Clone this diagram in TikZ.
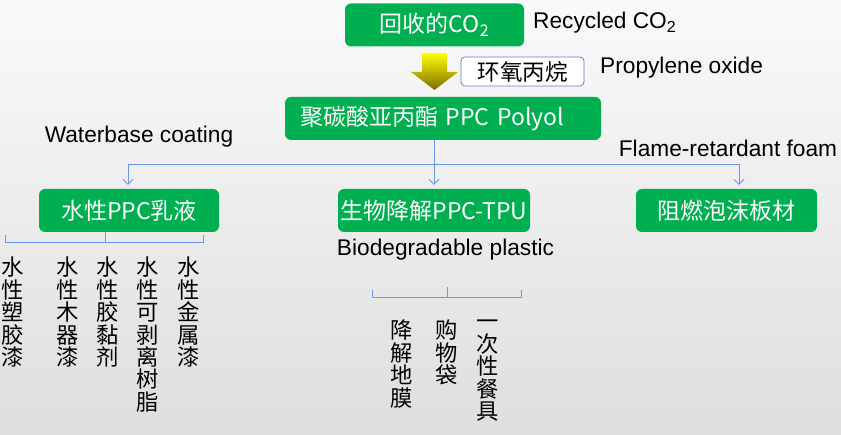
\documentclass[tikz,border=0pt]{standalone}
\usepackage{fontspec}
\setmainfont{Liberation Sans}
\newfontfamily\cjk{Noto Sans CJK SC}
\usetikzlibrary{arrows.meta}
\definecolor{boxgreen}{RGB}{0,176,80}
\definecolor{linkblue}{RGB}{110,152,230}
\definecolor{poborder}{RGB}{95,128,190}
\definecolor{bgtop}{RGB}{250,250,250}
\definecolor{bgbottom}{RGB}{222,222,222}
\definecolor{arrowtop}{RGB}{255,255,0}
\definecolor{arrowbottom}{RGB}{125,108,0}
\begin{document}
\begin{tikzpicture}[x=1pt,y=-1pt,
  gbox/.style={fill=boxgreen, rounded corners=6pt, text=white, font=\cjk\fontsize{23}{26}\selectfont, inner sep=0pt, minimum height=43pt},
  en/.style={font=\fontsize{22.7}{26}\selectfont, inner sep=0pt},
  vtext/.style={font=\cjk\fontsize{22.3}{22.4}\selectfont, align=center, anchor=north, inner sep=0pt},
  link/.style={draw=linkblue, line width=0.8pt},
  larrow/.style={link, -{Straight Barb[length=5pt,width=10pt]}, shorten >=4pt},
]
\useasboundingbox (0,0) rectangle (841,435);
\shade[top color=bgtop, bottom color=bgbottom] (0,0) rectangle (841,435);

% top
\node[gbox, minimum width=179pt] (co2) at (434.5,25) {回收的CO\textsubscript{2}};
\node[en, anchor=west] (co2en) at (533,23) {Recycled CO\raisebox{-0.3ex}{\fontsize{16}{18}\selectfont 2}};
\shade[top color=arrowtop, bottom color=arrowbottom]
  (422,53) -- (447,53) -- (447,72) -- (458,72) -- (434.5,90) -- (411,72) -- (422,72) -- cycle;
\node[draw=poborder, line width=0.8pt, rounded corners=4pt, fill=white, minimum width=123pt, minimum height=29pt, inner sep=0pt, font=\cjk\fontsize{22.5}{26}\selectfont] (po) at (522.5,71.5) {环氧丙烷};
\node[en, anchor=west] (poen) at (600,68) {Propylene oxide};
\node[gbox, minimum width=316pt, text width=286pt, align=left] (ppc) at (443,118.5) {聚碳酸亚丙酯 PPC Polyol};

% second level
\node[gbox, minimum width=180pt] (w) at (129,210.5) {水性PPC乳液};
\node[gbox, minimum width=192pt] (b) at (434,210.5) {生物降解PPC-TPU};
\node[gbox, minimum width=181pt] (f) at (726.5,210.5) {阻燃泡沫板材};

\node[en] (wen) at (139,137) {Waterbase coating};
\node[en] (fen) at (728,148) {Flame-retardant foam};
\node[en] (ben) at (445.5,250) {Biodegradable plastic};

% connectors
\coordinate (hub) at (434,164);
\coordinate (hl) at (128,164);
\coordinate (hr) at (739,164);
\draw[link] (ppc.south -| hub) -- (hub);
\draw[link] (hl) -- (hr);
\draw[larrow] (hl) -- (hl |- w.north);
\draw[larrow] (hub) -- (hub |- b.north);
\draw[larrow] (hr) -- (hr |- f.north);

% bracket 1
\coordinate (wc) at (105,242);
\coordinate (wl) at (5,242);
\coordinate (wr) at (203,242);
\draw[link] (w.south -| wc) -- (wc);
\draw[link] ([yshift=7pt]wl) -- (wl) -- (wr) -- ([yshift=7pt]wr);

\node[vtext] (v1) at (13,257) {水\\性\\塑\\胶\\漆};
\node[vtext] (v2) at (68,257) {水\\性\\木\\器\\漆};
\node[vtext] (v3) at (108,257) {水\\性\\胶\\黏\\剂};
\node[vtext] (v4) at (148,257) {水\\性\\可\\剥\\离\\树\\脂};
\node[vtext] (v5) at (189,257) {水\\性\\金\\属\\漆};

% bracket 2
\coordinate (bt) at (447,287);
\coordinate (bc) at (447,297);
\coordinate (bl) at (372,297);
\coordinate (br) at (521,297);
\draw[link] (bt) -- (bc);
\draw[link] ([yshift=7pt]bl) -- (bl) -- (br) -- ([yshift=7pt]br);

\node[vtext] (u1) at (402,320) {降\\解\\地\\膜};
\node[vtext] (u2) at (447,320) {购\\物\\袋};
\node[vtext] (u3) at (488,320) {一\\次\\性\\餐\\具};
\end{tikzpicture}
\end{document}
